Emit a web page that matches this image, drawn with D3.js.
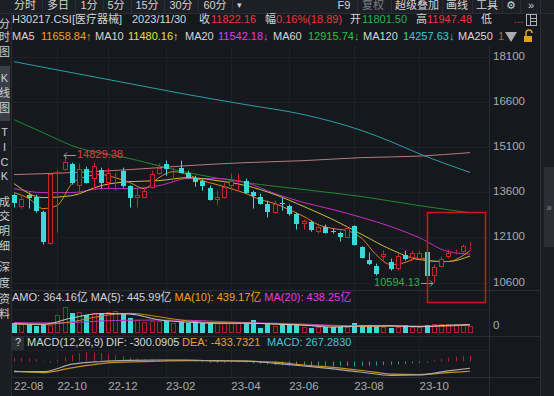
<!DOCTYPE html>
<html>
<head>
<meta charset="utf-8">
<script src="https://cdn.jsdelivr.net/npm/d3@7"></script>
<style>
body { margin: 0; background: #15181d; overflow: hidden; }
svg text { font-family: "Liberation Sans", "Noto Sans CJK SC", sans-serif; font-size: 11px; }
</style>
</head>
<body>
<div id="chart"></div>
<script>
// weekly bars, H30217.CSI 医疗器械
var weeks = ["2022-08-22","2022-08-29","2022-09-05","2022-09-12","2022-09-19","2022-09-26","2022-10-10","2022-10-17",
  "2022-10-24","2022-10-31","2022-11-07","2022-11-14","2022-11-21","2022-11-28","2022-12-05","2022-12-12",
  "2022-12-19","2022-12-26","2023-01-02","2023-01-09","2023-01-16","2023-01-30","2023-02-06","2023-02-13",
  "2023-02-20","2023-02-27","2023-03-06","2023-03-13","2023-03-20","2023-03-27","2023-04-03","2023-04-10",
  "2023-04-17","2023-04-24","2023-05-01","2023-05-08","2023-05-15","2023-05-22","2023-05-29","2023-06-05",
  "2023-06-12","2023-06-19","2023-06-26","2023-07-03","2023-07-10","2023-07-17","2023-07-24","2023-07-31",
  "2023-08-07","2023-08-14","2023-08-21","2023-08-28","2023-09-04","2023-09-11","2023-09-18","2023-09-25",
  "2023-10-09","2023-10-16","2023-10-23","2023-10-30","2023-11-06","2023-11-13","2023-11-20","2023-11-27"];

var openP = [13490,13120,13520,13450,12950,11890,14200,14350,14549,13818,14383,14051,14350,13918,14230,14316,
  13818,13420,13420,13752,14217,14549,14390,14416,14250,14084,13984,13752,13354,13420,13818,13950,
  13984,13620,13453,13221,12922,13230,13155,12889,12557,12624,12292,12458,12300,12259,12093,12491,
  11794,11362,11163,11460,11296,11064,11528,11429,11396,11628,10831,11130,11462,11590,11628,11801.50];
var highP = [13550,13490,13590,13520,12990,14230,14330,14829.38,14582,14549,14449,14582,14416,14416,14270,14416,
  13830,13719,13785,14316,14549,14648,14482,14648,14316,14150,14051,13818,13653,13918,14217,14217,
  14051,13653,13553,13321,13321,13420,13188,12922,12690,12657,12491,12524,12391,12292,12458,12500,
  11800,11595,11230,11661,11396,11562,11661,11661,11661,11661,11196,11462,11694,11694,11860,11947.48];
var lowP = [13090,13050,13060,12920,11860,11860,12260,14316,13852,13553,13885,13719,13719,13719,13653,13752,
  13088,13088,13400,13719,14184,14150,14051,14217,14051,13785,13653,13321,13155,13387,13653,13653,
  13553,13055,13188,12756,12889,12989,12823,12358,12358,12292,12225,12225,12225,11960,12093,11827,
  11396,11180,10831,11329,10997,10997,11329,11329,11362,10798,10594.13,11097,11396,11528,11595,11700];
var closeP = [13250,13390,13420,12960,11930,14220,14280,14615,13918,14383,13918,14482,13918,14250,14260,13818,
  13420,13490,13653,14217,14416,14383,14420,14250,14084,13951,13818,13354,13453,13785,13984,14010,
  13586,13487,13221,12955,13221,13210,12889,12557,12657,12358,12458,12259,12285,12126,12425,11860,
  11429,11200,10898,11560,11064,11495,11396,11595,11595,10831,11130,11396,11595,11610,11803.27,11822.16];

// 成交额 (亿)
var amount = [536,468,468,380,416,416,936,1352,1040,1092,936,1040,988,1092,1144,1040,
  780,676,572,624,624,624,520,572,520,520,520,520,520,520,520,520,
  572,676,260,520,380,468,468,468,312,260,312,312,312,312,312,520,
  416,416,380,312,260,312,416,312,312,416,468,468,468,468,468,364.16];

var macdHist = [160,150,130,110,-20,-40,80,200,300,380,420,400,380,330,300,250,
  180,140,110,90,80,60,40,20,-10,-20,-40,-60,-60,-50,-40,-30,
  -50,-80,-100,-120,-150,-160,-170,-180,-180,-190,-190,-200,-200,-190,-200,-210,
  -200,-190,-180,-160,-140,-120,-100,-80,-60,-40,60,120,170,210,240,267.283];

// moving averages at the given bar positions
var ma5Idx = [0,2,4,6,8,10,12,14,16,18,20,22,24,26,28,30,32,34,36,38,40,42,44,46,48,50,52,54,56,58,60,62,63];
var ma5 = [13586,13387,13055,13155,13885,14117,14184,14084,13918,13719,14084,14283,14184,13984,13852,13719,
  13553,13354,13221,13022,12790,12524,12391,12325,12060,11528,11196,11263,11429,11296,11296,11495,11658.84];
var ma10Idx = [0,4,8,12,16,20,24,28,32,36,40,44,48,52,56,60,63];
var ma10 = [13885,13420,13487,13818,13951,13984,14084,13984,13818,13520,13121,12690,12192,11694,11362,11296,11480.16];
var ma20 = [13719,13586,13586,13719,13719,13818,14051,14051,13918,13553,13254,13022,12756,12458,12093,11628,11542.18];
var ma60Idx = [0,4,8,16,24,32,40,48,56,63];
var ma60 = [16009,15578,15146,14715,14250,13918,13686,13453,13155,12915.74];
var ma120Idx = [0,8,16,24,32,40,48,52,56,63];
var ma120 = [17934,17569,17204,16839,16507,16175,15644,15279,14881,14257.63];
var ma250Idx = [0,8,16,24,32,40,48,56,63];
var ma250 = [14184,14250,14350,14482,14582,14648,14748,14798,14914];

var volMaIdx = [0,4,8,12,16,20,24,28,32,36,40,44,48,52,56,60,63];
var volMa5 = [500,470,800,1030,1000,700,580,520,530,480,420,320,380,390,340,420,445.99];
var volMa10 = [480,470,600,900,1040,860,640,550,530,490,430,380,360,370,360,380,439.17];
var volMa20 = [560,540,560,640,680,690,680,620,560,520,480,420,390,390,370,390,438.25];

var macdIdx = [0,4,8,12,16,20,24,28,32,36,40,44,48,52,56,60,63];
var dif = [-454,-454,-120,0,50,67,67,25,20,-80,-200,-330,-480,-620,-600,-420,-300.0905];
var dea = [-423,-498,-280,-90,-20,20,36,36,22,-30,-156,-260,-400,-560,-580,-500,-433.7321];

var priceTicks = [18100, 16600, 15100, 13600, 12100, 10600];
var tickWeeks = ["2022-08-22","2022-10-10","2022-11-28","2023-01-30","2023-04-03","2023-05-29","2023-07-31","2023-10-09"];
var tickLabels = ["22-08","22-10","22-12","23-02","23-04","23-06","23-08","23-10"];

var bg = "#15181d", lineC = "#2a2d34", gridC = "#1e2127";
var red = "#c8262b", cyan = "#3fd8d8";

var svg = d3.select("#chart").append("svg")
    .attr("width", 554).attr("height", 396)
    .style("background", bg).style("display", "block");

var x = d3.scaleBand().domain(weeks).range([10.4, 473.8]).padding(0);
function cx(w) { return Math.round(x(w) + x.bandwidth() / 2); }
var yP = d3.scaleLinear().domain([10600, 18100]).range([282.5, 56.7]);
var yV = d3.scaleLinear().domain([0, 1400]).range([333.3, 306.4]);
var yM = d3.scaleLinear().domain([-700, 300]).range([377.2, 354.8]);

var bars = weeks.map(function(w, i) {
  return {w: w, o: openP[i], h: highP[i], l: lowP[i], c: closeP[i], amo: amount[i], hist: macdHist[i]};
});

// ---------- frame ----------
svg.append("rect").attr("x", 0).attr("y", 0).attr("width", 554).attr("height", 13).attr("fill", "#1c1f25");
svg.append("rect").attr("x", 0).attr("y", 13).attr("width", 11).attr("height", 383).attr("fill", "#1a1d22");
svg.append("rect").attr("x", 541).attr("y", 13).attr("width", 13).attr("height", 383).attr("fill", "#1a1d22");
svg.append("rect").attr("x", 544).attr("y", 167).attr("width", 10).attr("height", 80).attr("fill", "#2b2e35");
svg.append("text").attr("x", 549).attr("y", 208).attr("text-anchor", "middle").attr("dominant-baseline", "middle")
  .attr("fill", "#8a8d94").style("font-size", "10px").text("»");

function hline(y, x1, x2, c) {
  svg.append("line").attr("x1", x1).attr("x2", x2).attr("y1", y).attr("y2", y).attr("stroke", c || lineC);
}
function vline(xx, y1, y2, c) {
  svg.append("line").attr("x1", xx).attr("x2", xx).attr("y1", y1).attr("y2", y2).attr("stroke", c || lineC);
}
hline(13.5, 0, 554);
hline(290.5, 11, 541);
hline(309.5, 11, 489, gridC);
hline(336.5, 11, 541);
hline(350.5, 11, 489, gridC);
hline(377.5, 11, 541);
vline(11.5, 13, 396);
vline(489.5, 46, 396);
vline(540.5, 0, 396);

// grid
priceTicks.forEach(function(t) { hline(Math.round(yP(t)) + 0.5, 11, 489, gridC); });
tickWeeks.slice(1).forEach(function(w) { vline(cx(w) + 0.5, 46, 377, gridC); });

// ---------- top tab bar ----------
var tabs = [["分时",25],["多日",58],["1分",89],["5分",116],["15分",147],["30分",181],["60分",215]];
tabs.forEach(function(t) {
  svg.append("text").attr("x", t[1]).attr("y", 6).attr("text-anchor", "middle").attr("dominant-baseline", "middle")
    .attr("fill", "#d4d4d4").text(t[0]);
});
[42,75,103,131,164,198,232,357,391,442,472,502,520].forEach(function(s) { vline(s + 0.5, 0, 13); });
svg.append("text").attr("x", 239).attr("y", 6).attr("text-anchor", "middle").attr("dominant-baseline", "middle")
  .attr("fill", "#d4d4d4").style("font-size", "9px").text("▾");
var rtabs = [["F9",344,"#d4d4d4"],["复权",373,"#7d8087"],["超级叠加",417,"#d4d4d4"],["画线",457,"#d4d4d4"],["工具",487,"#d4d4d4"]];
rtabs.forEach(function(t) {
  svg.append("text").attr("x", t[1]).attr("y", 6).attr("text-anchor", "middle").attr("dominant-baseline", "middle")
    .attr("fill", t[2]).text(t[0]);
});
svg.append("text").attr("x", 511).attr("y", 6).attr("text-anchor", "middle").attr("dominant-baseline", "middle")
  .attr("fill", "#d4d4d4").style("font-family", "DejaVu Sans").style("font-size", "11px").text("⚙");
svg.append("text").attr("x", 531).attr("y", 6).attr("text-anchor", "middle").attr("dominant-baseline", "middle")
  .attr("fill", "#d4d4d4").text("»");

// ---------- quote line ----------
function segs(y, list) {
  list.forEach(function(s) {
    svg.append("text").attr("x", s[1]).attr("y", y).attr("dominant-baseline", "middle").attr("fill", s[2]).text(s[0]);
  });
}
// segments placed one after the other, so they never run into each other
function chain(y, x0, gap, list) {
  var xx = x0;
  list.forEach(function(s) {
    var t = svg.append("text").attr("x", xx).attr("y", y).attr("dominant-baseline", "middle").attr("fill", s[1]).text(s[0]);
    xx += t.node().getComputedTextLength() + gap;
  });
}
var txt = "#d6d6d6", upC = "#e8383d", dnC = "#27b04b";
segs(20, [["H30217.CSI[医疗器械]",12,txt],["2023/11/30",132,txt],["收",199,txt],["11822.16",211,upC],
  ["幅",265,txt],["0.16%(18.89)",276,upC],["开",350,txt],["11801.50",362,dnC],["高",416,txt],
  ["11947.48",427,upC],["低",481,txt],["...",514,upC]]);
svg.append("rect").attr("x", 526.5).attr("y", 14.5).attr("width", 10).attr("height", 11).attr("fill", "none").attr("stroke", "#b0b0b0");
vline(530.5, 15, 25, "#b0b0b0");
[18.5, 21.5].forEach(function(yy) { hline(yy, 531, 536, "#b0b0b0"); });

// MA legend
segs(37, [["MA5",12,txt],["11658.84↑",41,"#f0a020"],["MA10",95,txt],["11480.16↑",128,"#e2e23c"],
  ["MA20",185,txt],["11542.18↓",218,"#e03ee0"],["MA60",273,txt],["12915.74↓",308,"#2cc040"],
  ["MA120",363,txt],["14257.63↓",403,"#3cc8d0"],["MA250",458,txt],["1",498,"#d05050"]]);
svg.append("path").attr("d", "M505,32 L517,32 L511,42 Z").attr("fill", "#a8abb0");
svg.append("rect").attr("x", 524).attr("y", 36).attr("width", 8).attr("height", 6).attr("fill", "#e0a020");
svg.append("path").attr("d", "M526,36 v-3 a3,3 0 0 1 6,0").attr("fill", "none").attr("stroke", "#e0a020").attr("stroke-width", 1.5);

// ---------- left side menu ----------
svg.append("rect").attr("x", 0).attr("y", 66).attr("width", 10).attr("height", 55).attr("fill", "#3a3e46");
var side = [["分",25],["时",38],["图",53],["K",79],["线",94],["图",109],["T",133],["I",148],["C",163],["K",177],
  ["成",203],["交",217],["明",232],["细",247],["深",268],["度",284],["资",300],["料",315]];
side.forEach(function(s) {
  svg.append("text").attr("x", 4.5).attr("y", s[1]).attr("text-anchor", "middle").attr("dominant-baseline", "middle")
    .attr("fill", "#cfcfcf").style("font-size", "11px").text(s[0]);
});

// ---------- price panel ----------
svg.append("clipPath").attr("id", "pclip").append("rect").attr("x", 12).attr("y", 46).attr("width", 477).attr("height", 244);
var pg = svg.append("g").attr("clip-path", "url(#pclip)");

var mas = [[ma250Idx, ma250, "#b87a7a"], [ma120Idx, ma120, "#2a9ea6"], [ma60Idx, ma60, "#1f8a2f"],
  [ma10Idx, ma20, "#c22fc2"], [ma10Idx, ma10, "#c4c236"], [ma5Idx, ma5, "#d4861e"]];
var maLine = d3.line().x(function(d) { return cx(weeks[d[0]]); }).y(function(d) { return yP(d[1]); })
  .curve(d3.curveMonotoneX);
mas.forEach(function(m) {
  pg.append("path").datum(m[0].map(function(k, j) { return [k, m[1][j]]; }))
    .attr("d", maLine).attr("fill", "none").attr("stroke", m[2]).attr("stroke-width", 1);
});

var candle = pg.selectAll("g.candle").data(bars).enter().append("g").attr("class", "candle");
candle.each(function(d) {
  var g = d3.select(this), xc = cx(d.w), up = d.c >= d.o;
  var top = Math.round(yP(Math.max(d.o, d.c))), bot = Math.round(yP(Math.min(d.o, d.c)));
  if (bot - top < 1) bot = top + 1;
  if (up) {
    g.append("line").attr("x1", xc + 0.5).attr("x2", xc + 0.5).attr("y1", yP(d.h)).attr("y2", top).attr("stroke", red);
    g.append("line").attr("x1", xc + 0.5).attr("x2", xc + 0.5).attr("y1", bot).attr("y2", yP(d.l)).attr("stroke", red);
    g.append("rect").attr("x", xc - 1.5).attr("y", top + 0.5).attr("width", 4).attr("height", Math.max(bot - top - 1, 0))
      .attr("fill", bg).attr("stroke", red);
  } else {
    g.append("line").attr("x1", xc + 0.5).attr("x2", xc + 0.5).attr("y1", yP(d.h)).attr("y2", yP(d.l)).attr("stroke", cyan);
    g.append("rect").attr("x", xc - 2).attr("y", top).attr("width", 5).attr("height", bot - top).attr("fill", cyan);
  }
});

// max / min labels
var hiI = d3.maxIndex(highP), loI = d3.minIndex(lowP);
var hx = cx(weeks[hiI]), hy = Math.round(yP(highP[hiI])) + 0.5;
pg.append("path").attr("d", "M" + (hx - 1) + "," + hy + " H" + (hx + 11) + " M" + (hx + 2) + "," + (hy - 3) + " L" + (hx - 1) + "," + hy + " L" + (hx + 2) + "," + (hy + 3))
  .attr("fill", "none").attr("stroke", "#9a9a9a");
pg.append("text").attr("x", hx + 12).attr("y", hy).attr("dominant-baseline", "middle").attr("fill", "#e8383d")
  .text(d3.format(".2f")(highP[hiI]));
var lx = cx(weeks[loI]), ly = Math.round(yP(lowP[loI])) + 0.5;
pg.append("path").attr("d", "M" + (lx - 13) + "," + ly + " H" + (lx - 1) + " M" + (lx - 4) + "," + (ly - 3) + " L" + (lx - 1) + "," + ly + " L" + (lx - 4) + "," + (ly + 3))
  .attr("fill", "none").attr("stroke", "#9a9a9a");
pg.append("text").attr("x", lx - 14).attr("y", ly).attr("text-anchor", "end").attr("dominant-baseline", "middle").attr("fill", "#27b04b")
  .text(d3.format(".2f")(lowP[loI]));

// price axis
priceTicks.forEach(function(t) {
  svg.append("text").attr("x", 493).attr("y", yP(t)).attr("dominant-baseline", "middle").attr("fill", "#a9abb0")
    .style("font-size", "11.5px").text(t);
});

// highlight box on the last weeks
svg.append("rect").attr("x", cx(weeks[57]) + 0.5).attr("y", Math.round(yP(12940)) + 0.5)
  .attr("width", cx(weeks[63]) + 15 - cx(weeks[57])).attr("height", 302 - Math.round(yP(12940)))
  .attr("fill", "none").attr("stroke", "#d0181c").attr("stroke-width", 1.5);

// ---------- amount panel ----------
chain(298, 12, 3, [["AMO: 364.16亿",txt],["MA(5): 445.99亿",txt],["MA(10): 439.17亿","#f0a020"],["MA(20): 438.25亿","#e03ee0"]]);
var vg = svg.append("g");
vg.selectAll("rect").data(bars).enter().append("rect")
  .attr("x", function(d) { return d.c >= d.o ? cx(d.w) - 1.5 : cx(d.w) - 2; })
  .attr("y", function(d) { return Math.round(yV(d.amo)) + (d.c >= d.o ? 0.5 : 0); })
  .attr("width", function(d) { return d.c >= d.o ? 4 : 5; })
  .attr("height", function(d) { return Math.round(yV(0)) - Math.round(yV(d.amo)) - (d.c >= d.o ? 1 : 0); })
  .attr("fill", function(d) { return d.c >= d.o ? bg : cyan; })
  .attr("stroke", function(d) { return d.c >= d.o ? "#a8242a" : "none"; });
var vLine = d3.line().x(function(d) { return cx(weeks[d[0]]); }).y(function(d) { return yV(d[1]); }).curve(d3.curveMonotoneX);
[[volMa20, "#c22fc2"], [volMa10, "#d4861e"], [volMa5, "#c9c9c9"]].forEach(function(m) {
  vg.append("path").datum(volMaIdx.map(function(k, j) { return [k, m[0][j]]; }))
    .attr("d", vLine).attr("fill", "none").attr("stroke", m[1]).attr("stroke-width", 1);
});
svg.append("text").attr("x", 493).attr("y", 326).attr("dominant-baseline", "middle").attr("fill", "#a9abb0")
  .style("font-size", "11.5px").text("0");

// ---------- MACD panel ----------
svg.append("rect").attr("x", 12).attr("y", 337).attr("width", 12).attr("height", 13).attr("fill", "#2c2f36");
svg.append("text").attr("x", 18).attr("y", 343.5).attr("text-anchor", "middle").attr("dominant-baseline", "middle")
  .attr("fill", "#d6d6d6").text("?");
segs(343.5, [["MACD(12,26,9)",27,txt],["DIF: -300.0905",106,txt],["DEA: -433.7321",182,"#f0a020"],["MACD: 267.2830",267,"#3cc8d0"]]);
var mg = svg.append("g");
mg.selectAll("line").data(bars).enter().append("line")
  .attr("x1", function(d) { return cx(d.w) + 0.5; }).attr("x2", function(d) { return cx(d.w) + 0.5; })
  .attr("y1", yM(0)).attr("y2", function(d) { return yM(d.hist); })
  .attr("stroke", function(d) { return d.hist >= 0 ? "#b02026" : "#2a9a9c"; });
var mLine = d3.line().x(function(d) { return cx(weeks[d[0]]); }).y(function(d) { return yM(d[1]); }).curve(d3.curveMonotoneX);
[[dea, "#c8901e"], [dif, "#a9a9a9"]].forEach(function(m) {
  mg.append("path").datum(macdIdx.map(function(k, j) { return [k, m[0][j]]; }))
    .attr("d", mLine).attr("fill", "none").attr("stroke", m[1]).attr("stroke-width", 1.2);
});

// ---------- time axis ----------
var xAxis = svg.append("g").attr("transform", "translate(0,387)")
  .call(d3.axisBottom(x).tickValues(tickWeeks).tickSize(0).tickPadding(0)
    .tickFormat(function(w) { return tickLabels[tickWeeks.indexOf(w)]; }));
xAxis.select(".domain").remove();
xAxis.selectAll("text").attr("y", 0).attr("dy", null).attr("dominant-baseline", "middle")
  .attr("text-anchor", "start").attr("fill", "#a9abb0")
  .style("font-family", "\"Liberation Sans\", sans-serif").style("font-size", "11.5px");
</script>
</body>
</html>
